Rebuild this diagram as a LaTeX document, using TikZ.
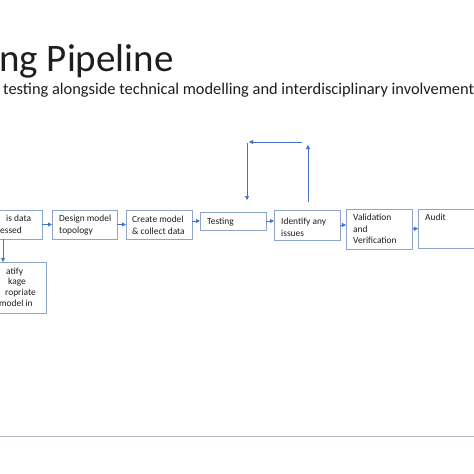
\documentclass[tikz,border=0pt]{standalone}
\usepackage{fontspec}
\setmainfont{Carlito}
\usetikzlibrary{arrows.meta}
\definecolor{boxc}{RGB}{140,165,205}
\definecolor{arrc}{RGB}{68,114,196}
\definecolor{txtc}{RGB}{30,30,30}
\definecolor{rulec}{RGB}{185,190,205}
\tikzset{
  box/.style={draw=boxc, line width=0.8pt, inner sep=0pt, outer sep=0pt, fill=white},
  btxt/.style={anchor=north west, inner sep=0pt, align=left, text=txtc, font=\fontsize{9.4}{11.6}\selectfont},
  flow/.style={draw=arrc, line width=0.8pt, -{Triangle[length=4pt,width=4pt]}},
}
\newcommand{\bx}[5]{\node[box, minimum width={(#4-#2)*1pt}, minimum height={(#5-#3)*1pt}] (#1) at ({(#2+#4)/2},{(#3+#5)/2}) {};}
\begin{document}
\begin{tikzpicture}[x=1pt,y=-1pt]
\useasboundingbox (0,0) rectangle (474,474);
\clip (0,0) rectangle (474,474);
\fill[white] (0,0) rectangle (474,474);
% title
\node[anchor=base west, inner sep=0pt, text=txtc, font=\fontsize{39}{47}\selectfont] (title) at (-1,71) {ng Pipeline};
\node[anchor=base west, inner sep=0pt, text=txtc, font=\fontsize{16.4}{19}\selectfont] (sub) at (3,94.3) {testing alongside technical modelling and interdisciplinary involvement};
% boxes
\bx{b1}{-60}{210}{42}{239}
\bx{b2}{52}{210}{117}{239}
\bx{b3}{126}{210}{192}{239}
\bx{b4}{200}{212}{266}{230}
\bx{b5}{274}{210}{340}{240}
\bx{b6}{346}{209}{412}{249}
\bx{b7}{418}{209}{520}{248}
\bx{b8}{-60}{262}{46}{313}
% texts
\node[btxt] (t1) at (0,213.2) {\strut\hspace*{6pt}is data\\essed};
\node[btxt] (t2) at (59,213.4) {\strut Design model\\topology};
\node[btxt] (t3) at (132,214.2) {\strut Create model\\\& collect data};
\node[btxt] (t4) at (207,216.2) {\strut Testing};
\node[btxt] (t5) at (281,216.2) {\strut Identify any\\issues};
\node[btxt] (t6) at (353,212.2) {\strut Validation\\and\\Verification};
\node[btxt] (t7) at (425,212.2) {\strut Audit};
\node[btxt, font=\fontsize{9.4}{10.9}\selectfont] (t8) at (-1,266.2) {\strut\hspace*{7pt}atify\\\hspace*{9pt}kage\\\hspace*{6pt}ropriate\\model in};
% connectors
\draw[flow] (b1.east) -- (b2.west);
\draw[flow] (b2.east) -- (b3.west);
\draw[flow] (b3.east |- b4.west) -- (b4.west);
\draw[flow] (b4.east) -- (b4.east -| b5.west);
\draw[flow] (b5.east) -- (b5.east -| b6.west);
\draw[flow] (b6.east) -- (b7.west);
\draw[flow] (b1.south -| 3,0) -- (b8.north -| 3,0);
% loop
\coordinate (u1) at (308,202);
\coordinate (u2) at (308,145);
\coordinate (l1) at (302,142);
\coordinate (l2) at (249,142);
\coordinate (d1) at (247,143);
\coordinate (d2) at (247,200);
\draw[flow] (u1) -- (u2);
\draw[flow] (l1) -- (l2);
\draw[flow] (d1) -- (d2);
% bottom rule
\coordinate (r1) at (0,436.5);
\coordinate (r2) at (474,436.5);
\draw[rulec, line width=1.3pt] (r1) -- (r2);
\end{tikzpicture}
\end{document}
